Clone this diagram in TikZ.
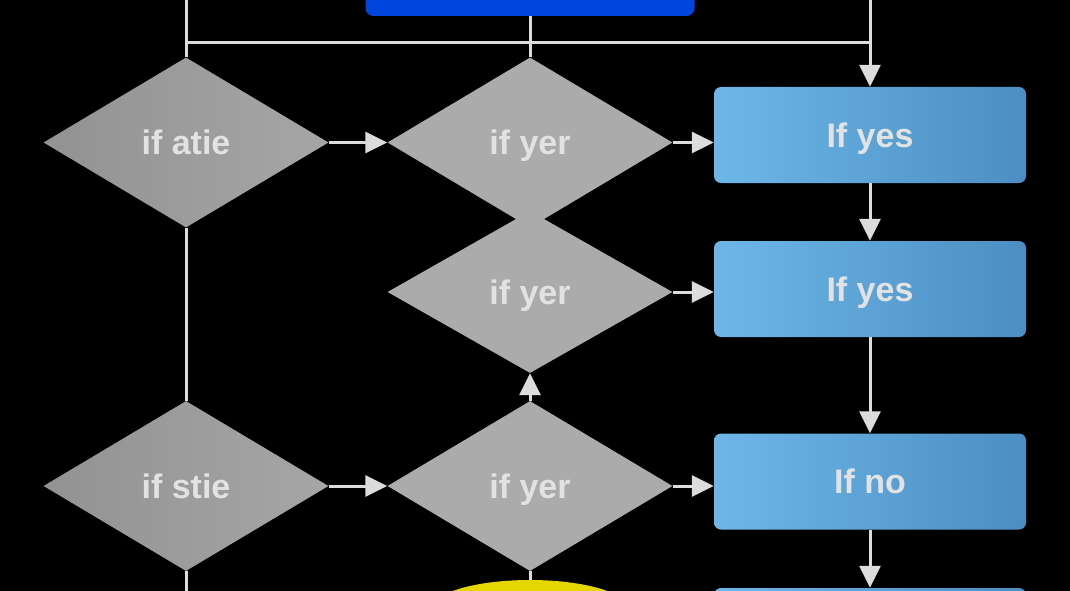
\documentclass[tikz,border=0pt]{standalone}
\usepackage{fontspec}
\setmainfont{Liberation Sans}
\usetikzlibrary{shapes.geometric,arrows.meta}
\definecolor{bgc}{HTML}{000000}
\definecolor{linec}{HTML}{DCDCDC}
\definecolor{dmid}{HTML}{ABABAB}
\definecolor{dleftl}{HTML}{929292}
\definecolor{dleftr}{HTML}{A6A6A6}
\definecolor{boxl}{HTML}{6DB7E8}
\definecolor{boxr}{HTML}{4C8EC1}
\definecolor{topblue}{HTML}{0046DE}
\definecolor{txtc}{HTML}{E2E2E2}
\definecolor{ylw}{HTML}{E6D600}
\tikzset{
  dia/.style={diamond, inner sep=0pt, minimum width=285pt, minimum height=170pt, text=txtc,
    text height=24pt, text depth=0pt, font=\fontsize{34}{40}\selectfont\bfseries},
  diamid/.style={dia, fill=dmid},
  dialeft/.style={dia, left color=dleftl, right color=dleftr},
  bbox/.style={rectangle, rounded corners=7pt, minimum width=312pt, minimum height=96pt,
    left color=boxl, right color=boxr, text=txtc, text height=24pt, text depth=0pt,
    font=\fontsize{34}{40}\selectfont\bfseries},
  conn/.style={draw=linec, line width=3pt},
  arr/.style={conn, -{Triangle[length=22pt,width=21pt]}},
}
\begin{document}
\begin{tikzpicture}[x=1pt,y=-1pt]
\fill[bgc] (0,0) rectangle (1070,591);
\useasboundingbox (0,0) rectangle (1070,591);
% top box
\node[rectangle, rounded corners=8pt, fill=topblue, minimum width=329pt, minimum height=56pt, inner sep=0pt] (top) at (530,-12) {};
% bottom ellipse
\node[ellipse, fill=ylw, minimum width=200pt, minimum height=60pt, inner sep=0pt] (yel) at (530,610) {};
% coordinates for free ends
\coordinate (lt) at (186,0);
\coordinate (rt) at (870,0);
\coordinate (jl) at (186,43);
\coordinate (jm) at (530,43);
\coordinate (jr) at (870,43);
\coordinate (lb) at (186,591);
% diamonds
\node[dialeft] (d1) at (186,142.5) {if atie};
\node[diamid, minimum height=162pt] (d3) at (530,292) {if yer};
\node[diamid] (d2) at (530,142.5) {if yer};
\node[dialeft] (d4) at (186,486) {if stie};
\node[diamid] (d5) at (530,486) {if yer};
% boxes
\node[bbox] (b1) at (870,135) {If yes};
\node[bbox] (b2) at (870,289) {If yes};
\node[bbox] (b3) at (870,481.5) {If no};
\node[bbox] (b4) at (870,636) {};
% top connectors
\draw[conn] (lt) -- (jl) -- (jr);
\draw[arr] (rt) -- (b1.north);
\draw[conn] (top.south) -- (jm);
\draw[conn] (jl) -- (d1.north);
\draw[conn] (jm) -- (d2.north);
% left vertical
\draw[conn] (d1.south) -- (d4.north);
\draw[conn] (d4.south) -- (lb);
% horizontal arrows
\draw[arr] (d1.east) -- (d2.west);
\draw[arr] (d4.east) -- (d5.west);
\draw[arr] (d2.east) -- (b1.west |- d2.east);
\draw[arr] (d3.east) -- (b2.west |- d3.east);
\draw[arr] (d5.east) -- (b3.west |- d5.east);
% vertical arrows
\draw[arr] (d5.north) -- (d3.south);
\draw[conn] (d5.south) -- (yel.north);
\draw[arr] (b1.south) -- (b2.north);
\draw[arr] (b2.south) -- (b3.north);
\draw[arr] (b3.south) -- (b4.north);
\end{tikzpicture}
\end{document}
